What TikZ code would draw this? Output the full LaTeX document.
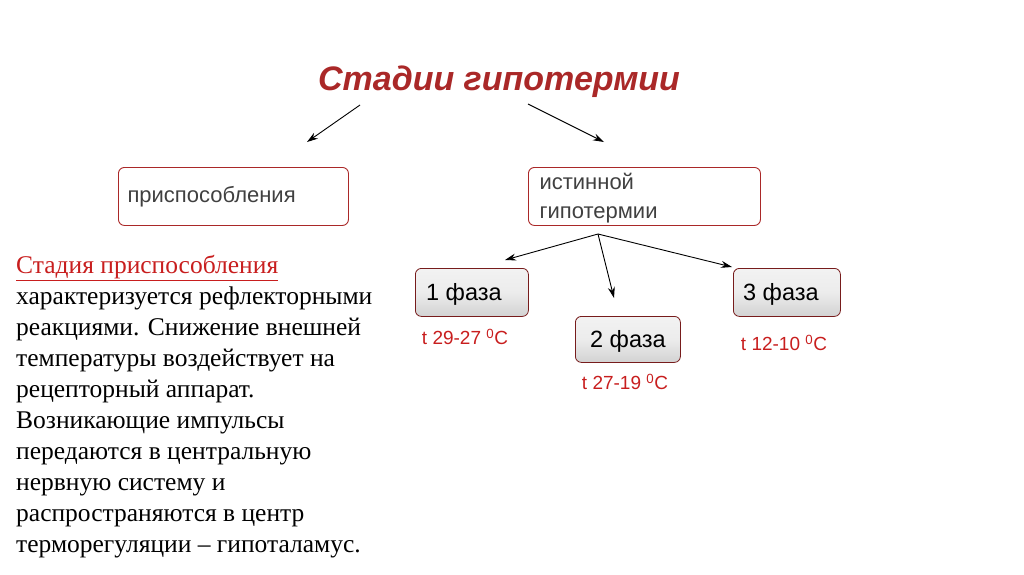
\documentclass[tikz,border=0pt]{standalone}
\usepackage{fontspec}
\setmainfont{Liberation Serif}
\newfontfamily\arialf{Liberation Sans}
\usetikzlibrary{arrows.meta}
\definecolor{bred}{RGB}{170,40,40}
\definecolor{tred}{RGB}{200,30,30}
\begin{document}
\begin{tikzpicture}[x=1pt,y=-1pt,
  catbox/.style={draw=bred,rounded corners=6pt,line width=0.9pt,anchor=north west,inner sep=0pt},
  phasebox/.style={draw=bred!70!black,rounded corners=6pt,line width=0.8pt,top color=gray!10,bottom color=gray!35,middle color=gray!15,anchor=north west,inner sep=0pt},
  ptext/.style={font=\arialf\fontsize{23.5}{26}\selectfont},
  arr/.style={-{Stealth[length=11pt,width=7pt]},line width=0.9pt},
  temp/.style={text=tred,font=\arialf\fontsize{19}{22}\selectfont}]
\useasboundingbox (0,0) rectangle (1024,574);
\node (title) at (499,82) {\arialf\bfseries\itshape\fontsize{34}{38}\selectfont\textcolor{bred}{Стадии гипотермии}};
\node[catbox,minimum width=230pt,minimum height=58pt] (a) at (118,167) {};
\node[anchor=west,text=black!75,font=\arialf\fontsize{22}{26}\selectfont] (at) at (124,197) {приспособления};
\node[catbox,minimum width=232pt,minimum height=58pt] (b) at (528,167) {};
\node[anchor=north west,text=black!75,align=left,font=\arialf\fontsize{22}{29}\selectfont] (bt) at (536,170) {истинной\\гипотермии};
\coordinate (t1) at (360,105); \coordinate (t2) at (528,104);
\draw[arr] (t1) -- (307,142);
\draw[arr] (t2) -- (604,142);
\node[phasebox,minimum width=113pt,minimum height=48pt] (p1) at (415,268) {};
\node at (p1.center) [ptext,yshift=-2pt,xshift=-8pt] (p1t) {1 фаза};
\node[phasebox,minimum width=105pt,minimum height=46pt] (p2) at (575,316) {};
\node at (p2.center) [ptext,yshift=-2pt] (p2t) {2 фаза};
\node[phasebox,minimum width=107pt,minimum height=48pt] (p3) at (733,268) {};
\node at (p3.center) [ptext,yshift=-2pt,xshift=-6pt] (p3t) {3 фаза};
\coordinate (s) at (598,234);
\draw[arr] (s) -- (505,260);
\draw[arr] (s) -- (614,298);
\draw[arr] (s) -- (732,267);
\node[temp] (l1) at (465,337) {t 29-27 \textsuperscript{0}C};
\node[temp] (l2) at (625,382) {t 27-19 \textsuperscript{0}C};
\node[temp] (l3) at (784,343) {t 12-10 \textsuperscript{0}C};
\node[anchor=north west,align=left,inner sep=0pt,font=\fontsize{25.5}{31}\selectfont] (txt) at (16,255) {\textcolor{tred}{\underline{Стадия приспособления}}\\
характеризуется рефлекторными\\реакциями. Снижение внешней\\температуры воздействует на\\рецепторный аппарат.\\Возникающие импульсы\\передаются в центральную\\нервную систему  и\\распространяются в центр\\терморегуляции – гипоталамус.};
\end{tikzpicture}
\end{document}
